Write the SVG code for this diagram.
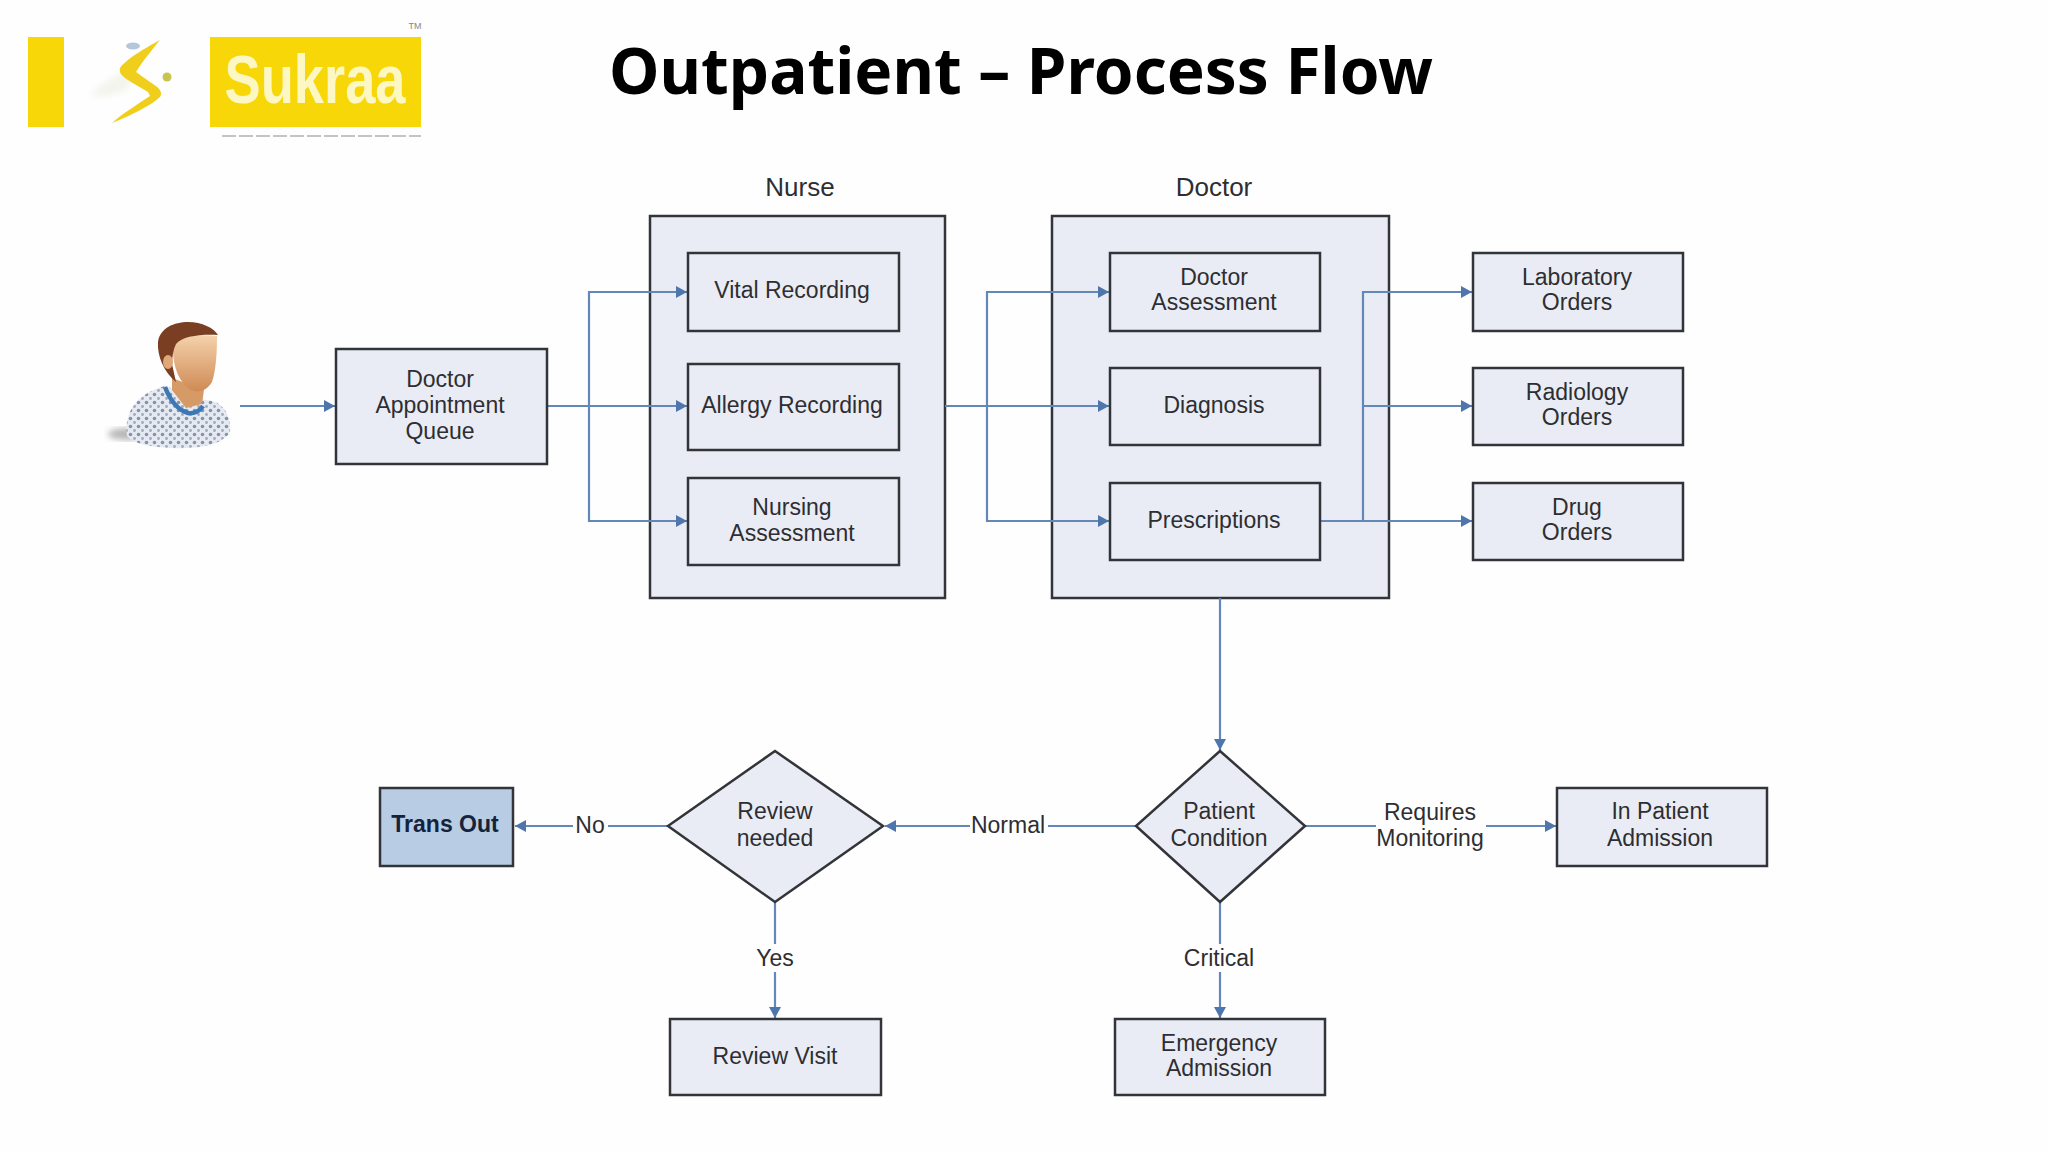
<svg xmlns="http://www.w3.org/2000/svg" width="2048" height="1152" viewBox="0 0 2048 1152">
<style>
.box{fill:#e9ecf4;stroke:#33343a;stroke-width:2.5}
.con{fill:none;stroke:#6387b8;stroke-width:2.2}
.t{font-family:"Liberation Sans",Arial,sans-serif;font-size:23px;fill:#2e2e32;text-anchor:middle}
.h{font-size:26px}
</style>
<defs>
<marker id="a" markerUnits="userSpaceOnUse" markerWidth="14" markerHeight="14" refX="11" refY="6" orient="auto"><path d="M0 0L11 6L0 12Z" fill="#4f75ad"/></marker>
<pattern id="g" width="8" height="8" patternUnits="userSpaceOnUse"><rect width="8" height="8" fill="#e6e9f0"/><circle cx="2.5" cy="2.5" r="1.8" fill="#8193b0"/><circle cx="6.5" cy="6.5" r="1.4" fill="#9aa8c0"/></pattern>
<linearGradient id="f" x1="0" y1="0" x2="0" y2="1"><stop offset="0" stop-color="#f4d2ab"/><stop offset="1" stop-color="#cf8a54"/></linearGradient>
<filter id="s"><feGaussianBlur stdDeviation="3"/></filter>
<filter id="b"><feGaussianBlur stdDeviation="0.7"/></filter>
</defs>
<rect width="2048" height="1152" fill="#fefefe"/>

<g id="logo">
<rect x="28" y="37" width="36" height="90" fill="#f7d708"/>
<ellipse cx="133" cy="46" rx="7" ry="3.5" fill="#b3c6da" filter="url(#b)"/>
<path d="M90 95C105 80 120 72 135 68L128 90C115 95 100 100 90 95Z" fill="#f4f4ee" filter="url(#s)"/>
<path d="M160 40C145 48 125 60 120 68C118 76 128 80 148 92L150 96C138 104 122 114 112 123C130 116 150 106 160 97C163 92 160 88 150 82L136 72C142 62 152 50 160 40Z" fill="#f0cf1c" filter="url(#b)"/>
<circle cx="167" cy="77" r="4.5" fill="#c9c34f"/>
<rect x="210" y="37" width="211" height="90" fill="#f7d708"/>
<text x="315" y="103" font-family="'Liberation Sans',Arial,sans-serif" font-size="68" font-weight="700" fill="#fdf7c4" text-anchor="middle" textLength="181" lengthAdjust="spacingAndGlyphs">Sukraa</text>
<text x="415" y="29" font-family="'Liberation Sans',Arial,sans-serif" font-size="9" fill="#888" text-anchor="middle">TM</text>
<line x1="222" y1="136" x2="421" y2="136" stroke="#c4c4c4" stroke-width="2" stroke-dasharray="14 3"/>
</g>

<text id="title" x="1021" y="94" font-family="'Noto Sans','Open Sans',sans-serif" font-size="64" font-weight="700" fill="#000" text-anchor="middle" textLength="824" lengthAdjust="spacingAndGlyphs">Outpatient – Process Flow</text>

<g id="patient">
<ellipse cx="128" cy="434" rx="20" ry="6" fill="#b5b5b5" filter="url(#s)"/>
<path d="M127 436C124 412 136 394 165 386L205 400C224 400 232 418 230 432C222 446 196 449 170 448C150 447 134 444 127 436Z" fill="url(#g)"/>
<path d="M172 378L172 390L186 408L202 404L204 390Z" fill="#d69a66"/>
<path d="M165 387C170 400 178 410 188 413C194 414 200 411 203 406" fill="none" stroke="#3c78b4" stroke-width="4.5"/>
<path d="M173 344C172 360 176 378 188 388C196 394 206 392 212 382C216 370 217 352 217 336C200 334 180 336 173 344Z" fill="url(#f)"/>
<path d="M176 382C164 372 157 356 158 342C160 328 174 322 188 322C202 322 214 328 218 335C202 334 182 336 176 344C173 350 172 358 172 364Z" fill="#7a3f22"/>
<ellipse cx="168" cy="362" rx="5" ry="7" fill="#e0a878"/>
</g>

<g id="nurse-group"><rect class="box" x="650" y="216" width="295" height="382"/><text class="t h" x="800" y="196">Nurse</text></g>
<g id="doctor-group"><rect class="box" x="1052" y="216" width="337" height="382"/><text class="t h" x="1214" y="196">Doctor</text></g>

<g id="connectors" class="con">
<path d="M240 406H335" marker-end="url(#a)"/>
<path d="M547 406H687" marker-end="url(#a)"/>
<path d="M589 406V292H687" marker-end="url(#a)"/>
<path d="M589 406V521H687" marker-end="url(#a)"/>
<path d="M945 406H1109" marker-end="url(#a)"/>
<path d="M987 406V292H1109" marker-end="url(#a)"/>
<path d="M987 406V521H1109" marker-end="url(#a)"/>
<path d="M1320 521H1472" marker-end="url(#a)"/>
<path d="M1363 521V292H1472" marker-end="url(#a)"/>
<path d="M1363 406H1472" marker-end="url(#a)"/>
<path d="M1220 598V750" marker-end="url(#a)"/>
<path d="M1136 826H1048"/>
<path d="M970 826H885" marker-end="url(#a)"/>
<path d="M668 826H608"/>
<path d="M573 826H515" marker-end="url(#a)"/>
<path d="M1305 826H1376"/>
<path d="M1486 826H1556" marker-end="url(#a)"/>
<path d="M775 902V944"/>
<path d="M775 972V1018" marker-end="url(#a)"/>
<path d="M1220 902V944"/>
<path d="M1220 972V1018" marker-end="url(#a)"/>
</g>

<g id="queue"><rect class="box" x="336" y="349" width="211" height="115"/><text class="t" x="440" y="387">Doctor</text><text class="t" x="440" y="413">Appointment</text><text class="t" x="440" y="439">Queue</text></g>
<g id="vital"><rect class="box" x="688" y="253" width="211" height="78"/><text class="t" x="792" y="298">Vital Recording</text></g>
<g id="allergy"><rect class="box" x="688" y="364" width="211" height="86"/><text class="t" x="792" y="413">Allergy Recording</text></g>
<g id="nursing"><rect class="box" x="688" y="478" width="211" height="87"/><text class="t" x="792" y="515">Nursing</text><text class="t" x="792" y="541">Assessment</text></g>
<g id="assessment"><rect class="box" x="1110" y="253" width="210" height="78"/><text class="t" x="1214" y="285">Doctor</text><text class="t" x="1214" y="310">Assessment</text></g>
<g id="diagnosis"><rect class="box" x="1110" y="368" width="210" height="77"/><text class="t" x="1214" y="413">Diagnosis</text></g>
<g id="prescriptions"><rect class="box" x="1110" y="483" width="210" height="77"/><text class="t" x="1214" y="528">Prescriptions</text></g>
<g id="lab"><rect class="box" x="1473" y="253" width="210" height="78"/><text class="t" x="1577" y="285">Laboratory</text><text class="t" x="1577" y="310">Orders</text></g>
<g id="radiology"><rect class="box" x="1473" y="368" width="210" height="77"/><text class="t" x="1577" y="400">Radiology</text><text class="t" x="1577" y="425">Orders</text></g>
<g id="drug"><rect class="box" x="1473" y="483" width="210" height="77"/><text class="t" x="1577" y="515">Drug</text><text class="t" x="1577" y="540">Orders</text></g>

<g id="patient-condition"><path class="box" d="M1220 751L1305 826L1220 902L1136 826Z"/><text class="t" x="1219" y="819">Patient</text><text class="t" x="1219" y="846">Condition</text></g>
<g id="review-needed"><path class="box" d="M775 751L883 826L775 902L668 826Z"/><text class="t" x="775" y="819">Review</text><text class="t" x="775" y="846">needed</text></g>
<g id="trans-out"><rect x="380" y="788" width="133" height="78" fill="#b8cce4" stroke="#33343a" stroke-width="2.5"/><text class="t" x="445" y="832" style="font-weight:700;fill:#14233c">Trans Out</text></g>
<g id="in-patient"><rect class="box" x="1557" y="788" width="210" height="78"/><text class="t" x="1660" y="819">In Patient</text><text class="t" x="1660" y="846">Admission</text></g>
<g id="review-visit"><rect class="box" x="670" y="1019" width="211" height="76"/><text class="t" x="775" y="1064">Review Visit</text></g>
<g id="emergency"><rect class="box" x="1115" y="1019" width="210" height="76"/><text class="t" x="1219" y="1051">Emergency</text><text class="t" x="1219" y="1076">Admission</text></g>

<g id="labels">
<text class="t" x="590" y="833">No</text>
<text class="t" x="1008" y="833">Normal</text>
<text class="t" x="1430" y="820">Requires</text>
<text class="t" x="1430" y="846">Monitoring</text>
<text class="t" x="775" y="966">Yes</text>
<text class="t" x="1219" y="966">Critical</text>
</g>
</svg>
